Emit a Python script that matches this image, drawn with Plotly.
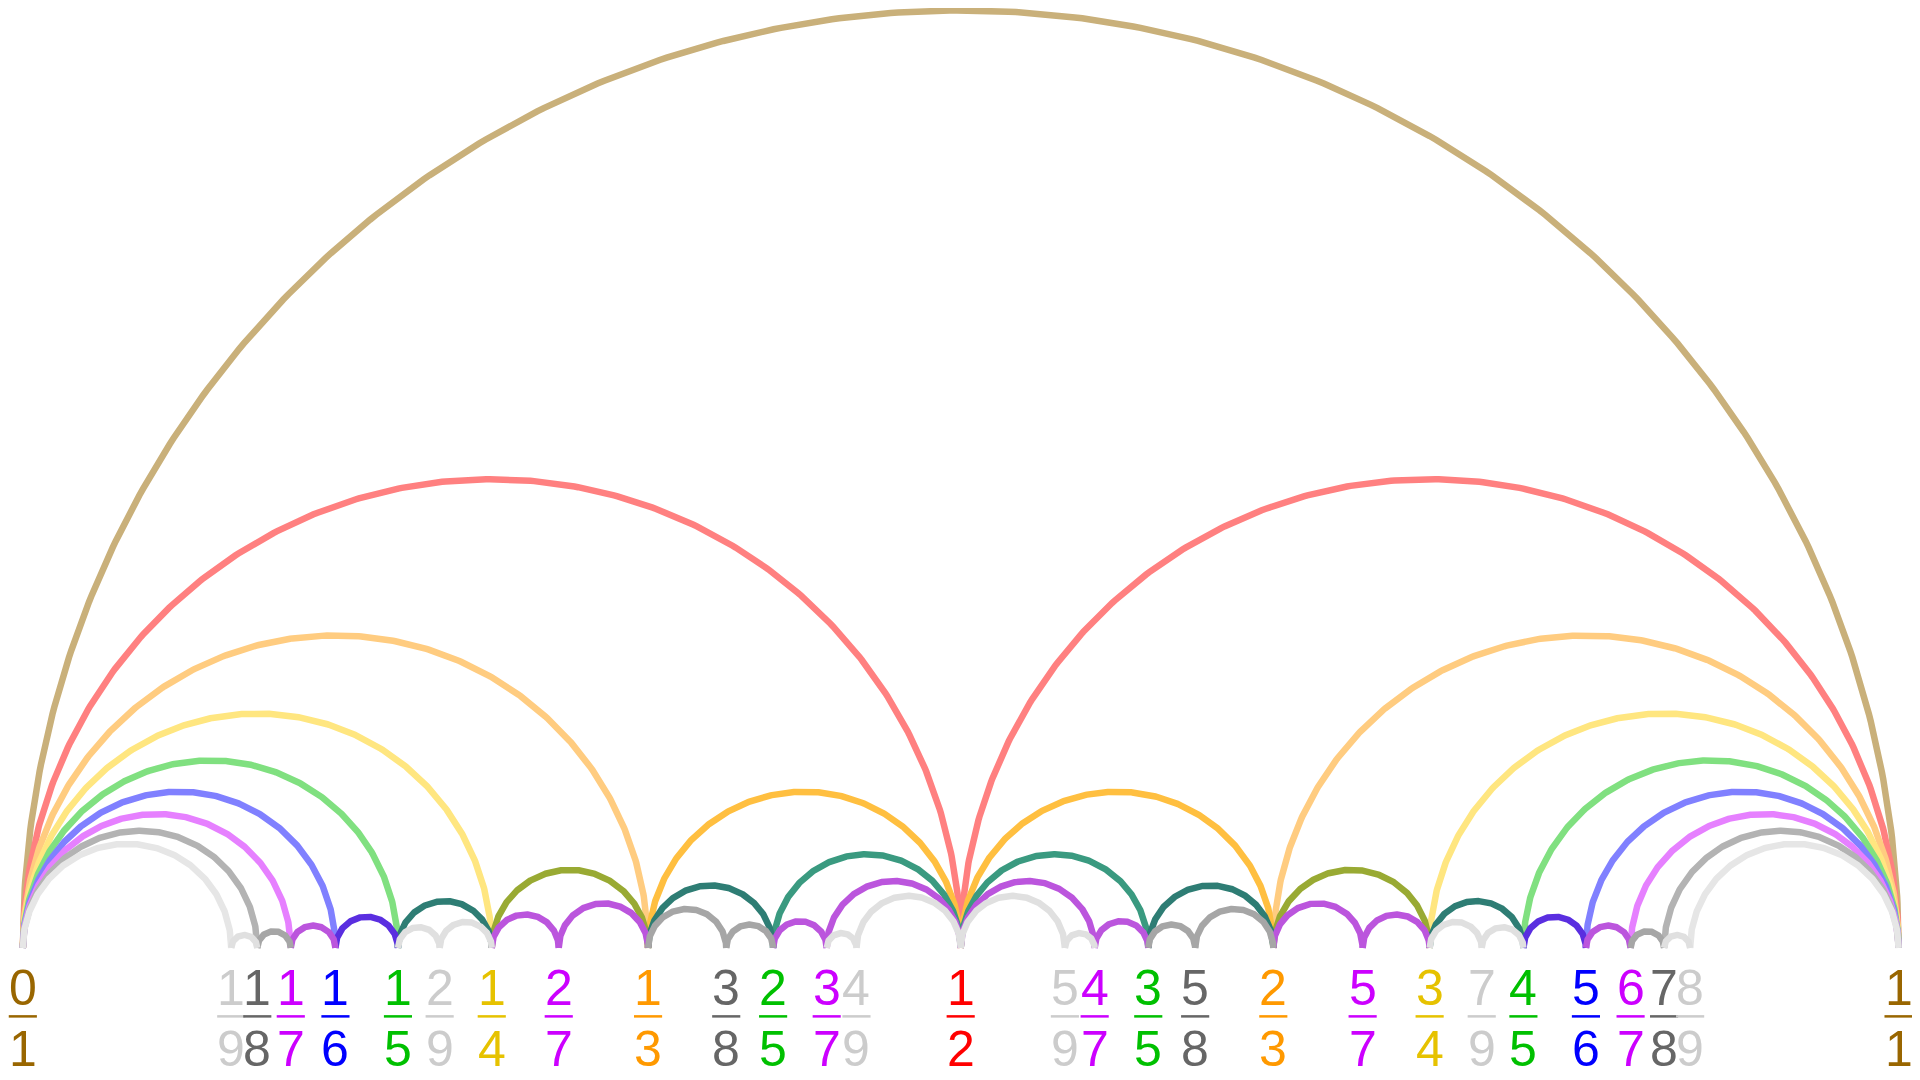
import numpy as np
import plotly.graph_objects as go
from fractions import Fraction

# Farey sequence of order 9
numerators = [0, 1, 1, 1, 1, 1, 2, 1, 2, 1, 3, 2, 3, 4, 1, 5, 4, 3, 5, 2, 5, 3, 7, 4, 5, 6, 7, 8, 1]
denominators = [1, 9, 8, 7, 6, 5, 9, 4, 7, 3, 8, 5, 7, 9, 2, 9, 7, 5, 8, 3, 7, 4, 9, 5, 6, 7, 8, 9, 1]

label_colors = {1: '#996600', 2: '#ff0000', 3: '#ff9900', 4: '#e6c200', 5: '#00c000',
                6: '#0000ff', 7: '#cc00ff', 8: '#666666', 9: '#cccccc'}
from_one_colors = {1: '#c9b07a', 2: '#ff8080', 3: '#ffcc80', 4: '#ffe680', 5: '#80e080',
                   6: '#8080ff', 7: '#e680ff', 8: '#b3b3b3', 9: '#e6e6e6'}
pair_colors = {(2, 3): '#ffbf40', (3, 4): '#99aa33', (3, 5): '#2e7d74', (4, 5): '#2e7d74',
               (2, 5): '#3a9a80', (5, 6): '#5a2ee0'}
big_colors = {7: '#bb55dd', 8: '#a6a6a6', 9: '#e0e0e0'}


def arc_color(q1, q2):
    lo, hi = min(q1, q2), max(q1, q2)
    if lo == 1:
        return from_one_colors[hi]
    if (lo, hi) in pair_colors:
        return pair_colors[(lo, hi)]
    return big_colors[hi]


fracs = [Fraction(n, d) for n, d in zip(numerators, denominators)]
pairs = []
for i, a in enumerate(fracs):
    for b in fracs[i + 1:]:
        if b.numerator * a.denominator - a.numerator * b.denominator == 1:
            pairs.append((a, b))
pairs.sort(key=lambda p: -(p[1] - p[0]))

fig = go.Figure()
t = np.linspace(np.pi, 0, 400)
for a, b in pairs:
    c = (float(a) + float(b)) / 2
    r = (float(b) - float(a)) / 2
    fig.add_trace(go.Scatter(x=c + r * np.cos(t), y=r * np.sin(t), mode='lines',
                             line=dict(color=arc_color(a.denominator, b.denominator), width=6.5),
                             hoverinfo='skip', showlegend=False))

font = 'Liberation Sans Narrow, Liberation Sans, Arial'
for n, d in zip(numerators, denominators):
    x = n / d
    col = label_colors[d]
    fig.add_annotation(x=x, y=-0.0215, text=str(n), showarrow=False,
                       font=dict(family=font, size=50, color=col))
    fig.add_annotation(x=x, y=-0.054, text=str(d), showarrow=False,
                       font=dict(family=font, size=50, color=col))
    fig.add_shape(type='line', x0=x - 0.0075, x1=x + 0.0075, y0=-0.0365, y1=-0.0365,
                  line=dict(color=col, width=2.5))

fig.update_layout(width=1920, height=1080, margin=dict(l=0, r=0, t=0, b=0),
                  plot_bgcolor='white', paper_bgcolor='white')
fig.update_xaxes(range=[-0.0079, 1.0157], visible=False)
fig.update_yaxes(range=[-0.0747, 0.5013], visible=False)
fig.write_html("out.html")
